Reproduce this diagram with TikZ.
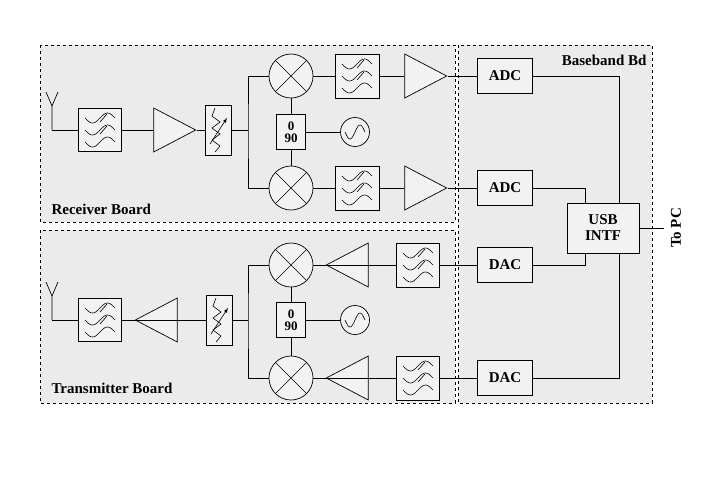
\documentclass[tikz,border=0pt]{standalone}
\usepackage{fontspec}
\setmainfont{Liberation Serif}
\usetikzlibrary{shapes.geometric,positioning,calc}

\tikzset{
  board/.style={draw, dashed, fill=black!8, line width=0.5pt},
  blk/.style={draw, fill=black!5, line width=0.7pt, inner sep=0pt},
  mix/.style={draw, circle, fill=black!5, line width=0.7pt, minimum size=44pt, inner sep=0pt},
  osc/.style={draw, circle, fill=black!5, line width=0.7pt, minimum size=29pt, inner sep=0pt},
  amp/.style={draw, isosceles triangle, isosceles triangle stretches, fill=black!5,
    line width=0.7pt, inner sep=0pt, minimum width=44pt, minimum height=42pt},
  lbl/.style={font=\fontsize{15}{16}\selectfont\bfseries},
  wire/.style={line width=0.7pt}
}

% filter symbol inside a named box
\newcommand\waves[1]{
  \foreach \dy in {-12,0,12}
    \draw[shift={(#1.center)}, line width=0.6pt] plot[domain=-15:15, samples=25]
      (\x,{\dy-5*sin(\x*360/30)});
  \draw[line width=0.6pt, shift={(#1.center)}] (0,-8) -- (7,-16);
  \draw[line width=0.6pt, shift={(#1.center)}] (0,4) -- (7,-4);
}
% attenuator symbol inside a named box
\newcommand\atten[1]{
  \draw[shift={(#1.center)}, line width=0.6pt]
    (-3,-22) -- (-6,-14) -- (2,-8) -- (-6,-2) -- (2,4) -- (-6,10) -- (2,16) -- (-3,22);
  \draw[shift={(#1.center)}, line width=0.6pt, -latex] (-8,14) -- (9,-12);
}
\newcommand\antenna[1]{
  \draw[wire] (#1) -- ++(0,-24) coordinate (#1top) -- ++(-6,-14);
  \draw[wire] (#1top) -- ++(6,-14);
}

\begin{document}
\begin{tikzpicture}[x=1pt, y=-1pt]
  \useasboundingbox (0,0) rectangle (708,499);

  % boards
  \draw[board] (40,45) rectangle (455,222);
  \draw[board] (40,230) rectangle (455,403);
  \draw[board] (458,45) rectangle (652,403);
  \node[lbl, anchor=west] (rxl) at (48,209) {Receiver Board};
  \node[lbl, anchor=west] (txl) at (48,388) {Transmitter Board};
  \node[lbl, anchor=east] (bbl) at (650,60) {Baseband Bd};

  % receiver board
  \coordinate (ra) at (52,130);
  \node[blk, minimum width=43pt, minimum height=43pt] (rf) at (100,130) {};
  \node[amp] (ra1) at (167,130) {};
  \node[blk, minimum width=26pt, minimum height=50pt] (rat) at (218,130) {};
  \coordinate (rj) at (248,130);
  \node[mix] (rm1) at (291,76) {};
  \node[mix] (rm2) at (291,188) {};
  \node[blk, minimum width=29pt, minimum height=35pt, align=center,
    font=\fontsize{13}{12}\selectfont\bfseries] (rp) at (291,132) {0\\90};
  \node[osc] (ro) at (355,132) {};
  \node[blk, minimum width=44pt, minimum height=44pt] (rl1) at (357,76) {};
  \node[blk, minimum width=44pt, minimum height=44pt] (rl2) at (357,188) {};
  \node[amp] (ra2) at (418,76) {};
  \node[amp] (ra3) at (418,188) {};

  % transmitter board
  \coordinate (ta) at (52,320);
  \node[blk, minimum width=43pt, minimum height=43pt] (tf) at (100,320) {};
  \node[amp, shape border rotate=180] (ta1) at (164,320) {};
  \node[blk, minimum width=26pt, minimum height=50pt] (tat) at (219,320) {};
  \coordinate (tj) at (248,320);
  \node[mix] (tm1) at (291,265) {};
  \node[mix] (tm2) at (291,378) {};
  \node[blk, minimum width=29pt, minimum height=35pt, align=center,
    font=\fontsize{13}{12}\selectfont\bfseries] (tp) at (291,320) {0\\90};
  \node[osc] (to) at (355,320) {};
  \node[amp, shape border rotate=180] (ta2) at (355,265) {};
  \node[amp, shape border rotate=180] (ta3) at (355,378) {};
  \node[blk, minimum width=43pt, minimum height=44pt] (tl1) at (418,265) {};
  \node[blk, minimum width=43pt, minimum height=44pt] (tl2) at (418,378) {};

  % baseband board
  \tikzset{conv/.style={blk, minimum width=55pt, minimum height=35pt, lbl}}
  \node[conv] (adc1) at (505,76) {ADC};
  \node[conv] (adc2) at (505,188) {ADC};
  \node[conv] (dac1) at (505,265) {DAC};
  \node[conv] (dac2) at (505,378) {DAC};
  \node[blk, minimum width=72pt, minimum height=50pt, lbl, align=center] (usb) at (603,228) {USB\\INTF};
  \coordinate (pc) at (664,228);
  \node[lbl, rotate=90] (pcl) at (676,228) {To PC};

  % symbols
  \foreach \n in {rf,rl1,rl2,tf,tl1,tl2} {\waves{\n}}
  \atten{rat}
  \atten{tat}
  \foreach \m in {rm1,rm2,tm1,tm2} {\draw[line width=0.5pt] (\m.45) -- (\m.225) (\m.135) -- (\m.315);}
  \foreach \o in {ro,to} {\draw[shift={(\o.center)}, line width=0.6pt]
    plot[domain=-10:10, samples=25] (\x,{-7*sin(\x*18)});}
  \antenna{ra}
  \antenna{ta}

  % receiver connectors
  \begin{scope}[wire]
    \draw (ra) -- (rf);
    \draw (rf) -- (ra1.west);
    \draw (ra1.east) -- (rat);
    \draw (rat) -- (rj);
    \draw (rm1.west) -| (rj) |- (rm2.west);
    \draw (rm1) -- (rp) -- (rm2);
    \draw (rp) -- (ro);
    \draw (rm1) -- (rl1) -- (ra2.west);
    \draw (rm2) -- (rl2) -- (ra3.west);
    \draw (ra2.east) -- (adc1);
    \draw (ra3.east) -- (adc2);
  \end{scope}

  % transmitter connectors
  \begin{scope}[wire]
    \draw (ta) -- (tf);
    \draw (tf) -- (ta1.east);
    \draw (ta1.west) -- (tat);
    \draw (tat) -- (tj);
    \draw (tm1.west) -| (tj) |- (tm2.west);
    \draw (tm1) -- (tp) -- (tm2);
    \draw (tp) -- (to);
    \draw (tm1) -- (ta2.east);
    \draw (tm2) -- (ta3.east);
    \draw (ta2.west) -- (tl1);
    \draw (ta3.west) -- (tl2);
    \draw (tl1) -- (dac1);
    \draw (tl2) -- (dac2);
  \end{scope}

  % baseband connectors
  \begin{scope}[wire]
    \draw (adc1) -| ([xshift=16pt]usb.north);
    \draw (adc2) -| ([xshift=-18pt]usb.north);
    \draw (dac1) -| ([xshift=-18pt]usb.south);
    \draw (dac2) -| ([xshift=16pt]usb.south);
    \draw (usb) -- (pc);
  \end{scope}
\end{tikzpicture}
\end{document}
